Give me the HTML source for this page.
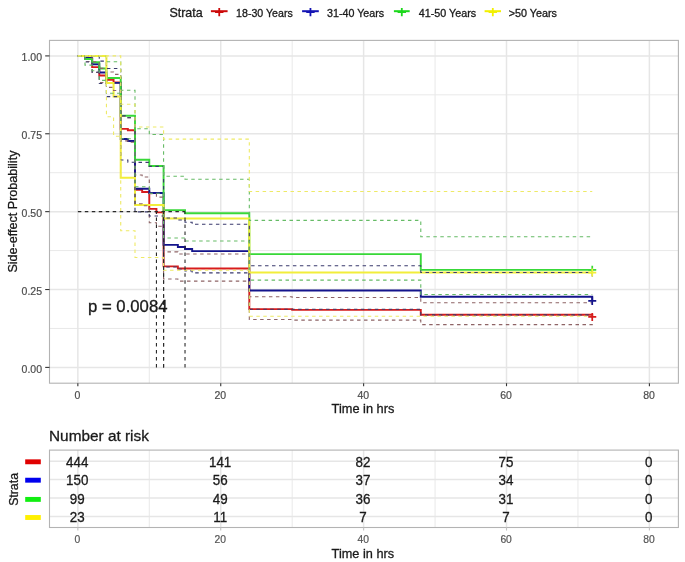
<!DOCTYPE html><html><head><meta charset="utf-8"><style>html,body{margin:0;padding:0;background:#fff}svg{display:block}text{font-family:"Liberation Sans",Arial,sans-serif}</style></head><body>
<svg width="685" height="562" viewBox="0 0 685 562">
<rect width="685" height="562" fill="#fff"/>
<text x="169.43" y="16.60" font-size="12.7" textLength="33.27" lengthAdjust="spacingAndGlyphs" fill="#1a1a1a" stroke="#1a1a1a" stroke-width="0.3">Strata</text>
<line x1="210.9" y1="11.2" x2="227.6" y2="11.2" stroke="#CC0A0A" stroke-width="2"/>
<path d="M219.25,8.1V16.3M215.05,12.1H223.45" stroke="#CC0A0A" stroke-width="1.8" fill="none"/>
<text x="236.09" y="16.90" font-size="10.6" textLength="56.69" lengthAdjust="spacingAndGlyphs" fill="#1a1a1a" stroke="#1a1a1a" stroke-width="0.3">18-30 Years</text>
<line x1="302.1" y1="11.2" x2="318.8" y2="11.2" stroke="#1414B4" stroke-width="2"/>
<path d="M310.45,8.1V16.3M306.25,12.1H314.65" stroke="#1414B4" stroke-width="1.8" fill="none"/>
<text x="327.09" y="16.90" font-size="10.6" textLength="57.09" lengthAdjust="spacingAndGlyphs" fill="#1a1a1a" stroke="#1a1a1a" stroke-width="0.3">31-40 Years</text>
<line x1="393.9" y1="11.2" x2="409.7" y2="11.2" stroke="#1CD81C" stroke-width="2"/>
<path d="M401.80,8.1V16.3M397.60,12.1H406.00" stroke="#1CD81C" stroke-width="1.8" fill="none"/>
<text x="418.75" y="16.90" font-size="10.6" textLength="57.43" lengthAdjust="spacingAndGlyphs" fill="#1a1a1a" stroke="#1a1a1a" stroke-width="0.3">41-50 Years</text>
<line x1="484.6" y1="11.2" x2="501.0" y2="11.2" stroke="#F2F000" stroke-width="2"/>
<path d="M492.80,8.1V16.3M488.60,12.1H497.00" stroke="#F2F000" stroke-width="1.8" fill="none"/>
<text x="508.77" y="16.90" font-size="10.6" textLength="48.21" lengthAdjust="spacingAndGlyphs" fill="#1a1a1a" stroke="#1a1a1a" stroke-width="0.3">&gt;50 Years</text>
<line x1="149.29" y1="40.4" x2="149.29" y2="383.2" stroke="#E9E9E9" stroke-width="1"/>
<line x1="292.18" y1="40.4" x2="292.18" y2="383.2" stroke="#E9E9E9" stroke-width="1"/>
<line x1="435.07" y1="40.4" x2="435.07" y2="383.2" stroke="#E9E9E9" stroke-width="1"/>
<line x1="577.96" y1="40.4" x2="577.96" y2="383.2" stroke="#E9E9E9" stroke-width="1"/>
<line x1="49.5" y1="328.46" x2="678.4" y2="328.46" stroke="#E9E9E9" stroke-width="1"/>
<line x1="49.5" y1="250.59" x2="678.4" y2="250.59" stroke="#E9E9E9" stroke-width="1"/>
<line x1="49.5" y1="172.71" x2="678.4" y2="172.71" stroke="#E9E9E9" stroke-width="1"/>
<line x1="49.5" y1="94.84" x2="678.4" y2="94.84" stroke="#E9E9E9" stroke-width="1"/>
<line x1="77.85" y1="40.4" x2="77.85" y2="383.2" stroke="#E6E6E6" stroke-width="1.5"/>
<line x1="220.74" y1="40.4" x2="220.74" y2="383.2" stroke="#E6E6E6" stroke-width="1.5"/>
<line x1="363.62" y1="40.4" x2="363.62" y2="383.2" stroke="#E6E6E6" stroke-width="1.5"/>
<line x1="506.51" y1="40.4" x2="506.51" y2="383.2" stroke="#E6E6E6" stroke-width="1.5"/>
<line x1="649.40" y1="40.4" x2="649.40" y2="383.2" stroke="#E6E6E6" stroke-width="1.5"/>
<line x1="49.5" y1="367.40" x2="678.4" y2="367.40" stroke="#E6E6E6" stroke-width="1.5"/>
<line x1="49.5" y1="289.52" x2="678.4" y2="289.52" stroke="#E6E6E6" stroke-width="1.5"/>
<line x1="49.5" y1="211.65" x2="678.4" y2="211.65" stroke="#E6E6E6" stroke-width="1.5"/>
<line x1="49.5" y1="133.77" x2="678.4" y2="133.77" stroke="#E6E6E6" stroke-width="1.5"/>
<line x1="49.5" y1="55.90" x2="678.4" y2="55.90" stroke="#E6E6E6" stroke-width="1.5"/>
<path d="M77.85,55.90H84.99V58.71H92.14V67.13H99.28V75.54H106.43V79.75H113.57V82.56H120.72V128.86H127.86V130.27H135.00V189.90H142.15V192.01H149.29V208.84H156.44V212.35H163.58V266.37H177.87V268.48H249.31V309.17H292.18V309.87H420.78V314.78H592.25V316.89H592.25" fill="none" stroke="#D81C1C" stroke-width="1.9"/>
<path d="M77.85,55.90H84.99V57.98H92.14V64.21H99.28V72.51H106.43V82.90H120.72V138.97H127.86V141.04H135.00V188.81H149.29V192.96H163.58V244.88H177.87V246.95H185.02V249.03H192.16V251.11H249.31V290.56H420.78V296.79H592.25V300.95H592.25" fill="none" stroke="#14148C" stroke-width="1.9"/>
<path d="M77.85,55.90H84.99V59.05H92.14V62.19H99.28V68.49H106.43V77.93H120.72V115.68H135.00V159.73H149.29V166.03H163.58V210.08H185.02V213.22H249.31V254.13H420.78V269.86H592.25" fill="none" stroke="#38D838" stroke-width="1.9"/>
<path d="M77.85,55.90H106.43V82.99H113.57V96.53H120.72V177.79H135.00V204.88H163.58V218.42H249.31V272.60H592.25" fill="none" stroke="#F2EE3A" stroke-width="2.0"/>
<path d="M77.85,55.90H84.99V55.96H92.14V61.68H99.28V68.42H106.43V71.94H113.57V74.34H120.72V116.27H127.86V117.59H135.00V174.96H142.15V177.03H149.29V193.68H156.44V197.17H163.58V251.86H177.87V254.03H249.31V296.70H292.18V297.45H420.78V302.72H592.25V304.99H592.25" fill="none" stroke="#8E6466" stroke-width="1.1" stroke-dasharray="3.484 3.484" stroke-dashoffset="0.12"/>
<path d="M77.85,55.90H84.99V61.43H92.14V72.48H99.28V82.50H106.43V87.36H113.57V90.55H120.72V140.83H127.86V142.30H135.00V203.68H142.15V205.80H149.29V222.69H156.44V226.18H163.58V279.07H177.87V281.09H249.31V319.44H292.18V320.08H420.78V324.59H592.25V326.51H592.25" fill="none" stroke="#8E6466" stroke-width="1.1" stroke-dasharray="3.484 3.484" stroke-dashoffset="0.12"/>
<path d="M77.85,55.90H92.14V56.07H99.28V61.10H106.43V68.52H120.72V115.82H127.86V117.70H135.00V162.37H149.29V166.37H163.58V217.94H177.87V220.06H185.02V222.18H192.16V224.31H249.31V265.77H420.78V272.51H592.25V277.04H592.25" fill="none" stroke="#3A3A6E" stroke-width="1.1" stroke-dasharray="3.484 3.484" stroke-dashoffset="0.12"/>
<path d="M77.85,55.90H84.99V62.01H92.14V72.13H99.28V83.50H106.43V96.58H120.72V159.98H127.86V162.20H135.00V211.84H149.29V216.03H163.58V266.96H177.87V268.94H185.02V270.91H192.16V272.88H249.31V309.31H420.78V314.86H592.25V318.53H592.25" fill="none" stroke="#3A3A6E" stroke-width="1.1" stroke-dasharray="3.484 3.484" stroke-dashoffset="0.12"/>
<path d="M77.85,55.90H99.28V56.16H106.43V61.76H120.72V90.32H135.00V128.70H149.29V134.45H163.58V176.20H185.02V179.28H249.31V220.41H420.78V236.82H592.25" fill="none" stroke="#66BB66" stroke-width="1.1" stroke-dasharray="3.484 3.484" stroke-dashoffset="0.12"/>
<path d="M77.85,55.90H84.99V65.12H92.14V70.70H99.28V80.33H106.43V93.23H120.72V138.72H135.00V186.74H149.29V193.32H163.58V237.95H185.02V241.04H249.31V280.11H420.78V294.54H592.25" fill="none" stroke="#66BB66" stroke-width="1.1" stroke-dasharray="3.484 3.484" stroke-dashoffset="0.12"/>
<path d="M77.85,55.90H120.72V104.27H135.00V127.05H163.58V139.10H249.31V191.54H592.25" fill="none" stroke="#EEEA66" stroke-width="1.1" stroke-dasharray="3.484 3.484" stroke-dashoffset="0.12"/>
<path d="M77.85,55.90H106.43V116.69H113.57V136.18H120.72V230.77H135.00V257.51H163.58V270.18H249.31V316.29H592.25" fill="none" stroke="#EEEA66" stroke-width="1.1" stroke-dasharray="3.484 3.484" stroke-dashoffset="0.12"/>
<path d="M588.25,316.89H596.25M592.25,312.89V320.89" stroke="#D81C1C" stroke-width="1.7" fill="none"/>
<path d="M588.25,300.95H596.25M592.25,296.95V304.95" stroke="#14148C" stroke-width="1.7" fill="none"/>
<path d="M588.25,269.86H596.25M592.25,265.86V273.86" stroke="#38D838" stroke-width="1.7" fill="none"/>
<path d="M588.25,272.60H596.25M592.25,268.60V276.60" stroke="#F2EE3A" stroke-width="1.7" fill="none"/>
<path d="M77.85,211.65H185.02" stroke="#2a2a2a" stroke-width="1.1" stroke-dasharray="3.484 3.484" fill="none"/>
<path d="M156.44,367.40V211.65" stroke="#2a2a2a" stroke-width="1.1" stroke-dasharray="3.484 3.484" fill="none"/>
<path d="M163.58,367.40V211.65" stroke="#2a2a2a" stroke-width="1.1" stroke-dasharray="3.484 3.484" fill="none"/>
<path d="M163.58,367.40V211.65" stroke="#2a2a2a" stroke-width="1.1" stroke-dasharray="3.484 3.484" fill="none"/>
<path d="M185.02,367.40V211.65" stroke="#2a2a2a" stroke-width="1.1" stroke-dasharray="3.484 3.484" fill="none"/>
<text x="88.01" y="311.70" font-size="15.7" textLength="79.48" lengthAdjust="spacingAndGlyphs" fill="#1a1a1a" stroke="#1a1a1a" stroke-width="0.3">p = 0.0084</text>
<rect x="49.5" y="40.4" width="628.90" height="342.80" fill="none" stroke="#B3B3B3" stroke-width="1.1"/>
<line x1="45.2" y1="367.40" x2="49.5" y2="367.40" stroke="#333" stroke-width="1.1"/>
<text x="42.0" y="372.80" font-size="10.5" fill="#4D4D4D" stroke="#4D4D4D" stroke-width="0.2" text-anchor="end">0.00</text>
<line x1="45.2" y1="289.52" x2="49.5" y2="289.52" stroke="#333" stroke-width="1.1"/>
<text x="42.0" y="294.92" font-size="10.5" fill="#4D4D4D" stroke="#4D4D4D" stroke-width="0.2" text-anchor="end">0.25</text>
<line x1="45.2" y1="211.65" x2="49.5" y2="211.65" stroke="#333" stroke-width="1.1"/>
<text x="42.0" y="217.05" font-size="10.5" fill="#4D4D4D" stroke="#4D4D4D" stroke-width="0.2" text-anchor="end">0.50</text>
<line x1="45.2" y1="133.77" x2="49.5" y2="133.77" stroke="#333" stroke-width="1.1"/>
<text x="42.0" y="139.17" font-size="10.5" fill="#4D4D4D" stroke="#4D4D4D" stroke-width="0.2" text-anchor="end">0.75</text>
<line x1="45.2" y1="55.90" x2="49.5" y2="55.90" stroke="#333" stroke-width="1.1"/>
<text x="42.0" y="61.30" font-size="10.5" fill="#4D4D4D" stroke="#4D4D4D" stroke-width="0.2" text-anchor="end">1.00</text>
<line x1="77.85" y1="383.2" x2="77.85" y2="386.2" stroke="#333" stroke-width="1.1"/>
<text x="77.45" y="398.7" font-size="10.5" fill="#4D4D4D" stroke="#4D4D4D" stroke-width="0.2" text-anchor="middle">0</text>
<line x1="220.74" y1="383.2" x2="220.74" y2="386.2" stroke="#333" stroke-width="1.1"/>
<text x="220.34" y="398.7" font-size="10.5" fill="#4D4D4D" stroke="#4D4D4D" stroke-width="0.2" text-anchor="middle">20</text>
<line x1="363.62" y1="383.2" x2="363.62" y2="386.2" stroke="#333" stroke-width="1.1"/>
<text x="363.23" y="398.7" font-size="10.5" fill="#4D4D4D" stroke="#4D4D4D" stroke-width="0.2" text-anchor="middle">40</text>
<line x1="506.51" y1="383.2" x2="506.51" y2="386.2" stroke="#333" stroke-width="1.1"/>
<text x="506.11" y="398.7" font-size="10.5" fill="#4D4D4D" stroke="#4D4D4D" stroke-width="0.2" text-anchor="middle">60</text>
<line x1="649.40" y1="383.2" x2="649.40" y2="386.2" stroke="#333" stroke-width="1.1"/>
<text x="649.00" y="398.7" font-size="10.5" fill="#4D4D4D" stroke="#4D4D4D" stroke-width="0.2" text-anchor="middle">80</text>
<text x="331.62" y="412.50" font-size="12.6" textLength="62.74" lengthAdjust="spacingAndGlyphs" fill="#1a1a1a" stroke="#1a1a1a" stroke-width="0.3">Time in hrs</text>
<text transform="translate(17.00,272.58) rotate(-90)" font-size="12.5" textLength="122.00" lengthAdjust="spacingAndGlyphs" fill="#1a1a1a" stroke="#1a1a1a" stroke-width="0.3">Side-effect Probability</text>
<line x1="149.29" y1="450.1" x2="149.29" y2="527.5" stroke="#E9E9E9" stroke-width="1"/>
<line x1="292.18" y1="450.1" x2="292.18" y2="527.5" stroke="#E9E9E9" stroke-width="1"/>
<line x1="435.07" y1="450.1" x2="435.07" y2="527.5" stroke="#E9E9E9" stroke-width="1"/>
<line x1="577.96" y1="450.1" x2="577.96" y2="527.5" stroke="#E9E9E9" stroke-width="1"/>
<line x1="77.85" y1="450.1" x2="77.85" y2="527.5" stroke="#E6E6E6" stroke-width="1.5"/>
<line x1="220.74" y1="450.1" x2="220.74" y2="527.5" stroke="#E6E6E6" stroke-width="1.5"/>
<line x1="363.62" y1="450.1" x2="363.62" y2="527.5" stroke="#E6E6E6" stroke-width="1.5"/>
<line x1="506.51" y1="450.1" x2="506.51" y2="527.5" stroke="#E6E6E6" stroke-width="1.5"/>
<line x1="649.40" y1="450.1" x2="649.40" y2="527.5" stroke="#E6E6E6" stroke-width="1.5"/>
<line x1="49.5" y1="461.16" x2="678.4" y2="461.16" stroke="#E6E6E6" stroke-width="1.5"/>
<line x1="49.5" y1="479.59" x2="678.4" y2="479.59" stroke="#E6E6E6" stroke-width="1.5"/>
<line x1="49.5" y1="498.01" x2="678.4" y2="498.01" stroke="#E6E6E6" stroke-width="1.5"/>
<line x1="49.5" y1="516.44" x2="678.4" y2="516.44" stroke="#E6E6E6" stroke-width="1.5"/>
<rect x="49.5" y="450.1" width="628.90" height="77.40" fill="none" stroke="#B3B3B3" stroke-width="1.1"/>
<text x="49.04" y="441.10" font-size="15.4" textLength="99.84" lengthAdjust="spacingAndGlyphs" fill="#1a1a1a" stroke="#1a1a1a" stroke-width="0.3">Number at risk</text>
<rect x="25.2" y="459.35" width="15.6" height="4.9" fill="#E00000"/>
<text x="77.25" y="467.06" font-size="13.9" textLength="22.36" lengthAdjust="spacingAndGlyphs" fill="#1a1a1a" stroke="#1a1a1a" stroke-width="0.3" text-anchor="middle">444</text>
<text x="220.14" y="467.06" font-size="13.9" textLength="22.36" lengthAdjust="spacingAndGlyphs" fill="#1a1a1a" stroke="#1a1a1a" stroke-width="0.3" text-anchor="middle">141</text>
<text x="363.02" y="467.06" font-size="13.9" textLength="14.90" lengthAdjust="spacingAndGlyphs" fill="#1a1a1a" stroke="#1a1a1a" stroke-width="0.3" text-anchor="middle">82</text>
<text x="505.91" y="467.06" font-size="13.9" textLength="14.90" lengthAdjust="spacingAndGlyphs" fill="#1a1a1a" stroke="#1a1a1a" stroke-width="0.3" text-anchor="middle">75</text>
<text x="648.80" y="467.06" font-size="13.9" textLength="7.45" lengthAdjust="spacingAndGlyphs" fill="#1a1a1a" stroke="#1a1a1a" stroke-width="0.3" text-anchor="middle">0</text>
<rect x="25.2" y="477.75" width="15.6" height="4.9" fill="#0000EE"/>
<text x="77.25" y="485.49" font-size="13.9" textLength="22.36" lengthAdjust="spacingAndGlyphs" fill="#1a1a1a" stroke="#1a1a1a" stroke-width="0.3" text-anchor="middle">150</text>
<text x="220.14" y="485.49" font-size="13.9" textLength="14.90" lengthAdjust="spacingAndGlyphs" fill="#1a1a1a" stroke="#1a1a1a" stroke-width="0.3" text-anchor="middle">56</text>
<text x="363.02" y="485.49" font-size="13.9" textLength="14.90" lengthAdjust="spacingAndGlyphs" fill="#1a1a1a" stroke="#1a1a1a" stroke-width="0.3" text-anchor="middle">37</text>
<text x="505.91" y="485.49" font-size="13.9" textLength="14.90" lengthAdjust="spacingAndGlyphs" fill="#1a1a1a" stroke="#1a1a1a" stroke-width="0.3" text-anchor="middle">34</text>
<text x="648.80" y="485.49" font-size="13.9" textLength="7.45" lengthAdjust="spacingAndGlyphs" fill="#1a1a1a" stroke="#1a1a1a" stroke-width="0.3" text-anchor="middle">0</text>
<rect x="25.2" y="496.95" width="15.6" height="4.9" fill="#11EE11"/>
<text x="77.25" y="503.91" font-size="13.9" textLength="14.90" lengthAdjust="spacingAndGlyphs" fill="#1a1a1a" stroke="#1a1a1a" stroke-width="0.3" text-anchor="middle">99</text>
<text x="220.14" y="503.91" font-size="13.9" textLength="14.90" lengthAdjust="spacingAndGlyphs" fill="#1a1a1a" stroke="#1a1a1a" stroke-width="0.3" text-anchor="middle">49</text>
<text x="363.02" y="503.91" font-size="13.9" textLength="14.90" lengthAdjust="spacingAndGlyphs" fill="#1a1a1a" stroke="#1a1a1a" stroke-width="0.3" text-anchor="middle">36</text>
<text x="505.91" y="503.91" font-size="13.9" textLength="14.90" lengthAdjust="spacingAndGlyphs" fill="#1a1a1a" stroke="#1a1a1a" stroke-width="0.3" text-anchor="middle">31</text>
<text x="648.80" y="503.91" font-size="13.9" textLength="7.45" lengthAdjust="spacingAndGlyphs" fill="#1a1a1a" stroke="#1a1a1a" stroke-width="0.3" text-anchor="middle">0</text>
<rect x="25.2" y="515.05" width="15.6" height="4.9" fill="#FFF000"/>
<text x="77.25" y="522.34" font-size="13.9" textLength="14.90" lengthAdjust="spacingAndGlyphs" fill="#1a1a1a" stroke="#1a1a1a" stroke-width="0.3" text-anchor="middle">23</text>
<text x="220.14" y="522.34" font-size="13.9" textLength="13.91" lengthAdjust="spacingAndGlyphs" fill="#1a1a1a" stroke="#1a1a1a" stroke-width="0.3" text-anchor="middle">11</text>
<text x="363.02" y="522.34" font-size="13.9" textLength="7.45" lengthAdjust="spacingAndGlyphs" fill="#1a1a1a" stroke="#1a1a1a" stroke-width="0.3" text-anchor="middle">7</text>
<text x="505.91" y="522.34" font-size="13.9" textLength="7.45" lengthAdjust="spacingAndGlyphs" fill="#1a1a1a" stroke="#1a1a1a" stroke-width="0.3" text-anchor="middle">7</text>
<text x="648.80" y="522.34" font-size="13.9" textLength="7.45" lengthAdjust="spacingAndGlyphs" fill="#1a1a1a" stroke="#1a1a1a" stroke-width="0.3" text-anchor="middle">0</text>
<line x1="77.85" y1="527.5" x2="77.85" y2="530.6" stroke="#C4C4C4" stroke-width="1.1"/>
<text x="77.45" y="543.1" font-size="10.3" fill="#555" stroke="#555" stroke-width="0.2" text-anchor="middle">0</text>
<line x1="220.74" y1="527.5" x2="220.74" y2="530.6" stroke="#C4C4C4" stroke-width="1.1"/>
<text x="220.34" y="543.1" font-size="10.3" fill="#555" stroke="#555" stroke-width="0.2" text-anchor="middle">20</text>
<line x1="363.62" y1="527.5" x2="363.62" y2="530.6" stroke="#C4C4C4" stroke-width="1.1"/>
<text x="363.23" y="543.1" font-size="10.3" fill="#555" stroke="#555" stroke-width="0.2" text-anchor="middle">40</text>
<line x1="506.51" y1="527.5" x2="506.51" y2="530.6" stroke="#C4C4C4" stroke-width="1.1"/>
<text x="506.11" y="543.1" font-size="10.3" fill="#555" stroke="#555" stroke-width="0.2" text-anchor="middle">60</text>
<line x1="649.40" y1="527.5" x2="649.40" y2="530.6" stroke="#C4C4C4" stroke-width="1.1"/>
<text x="649.00" y="543.1" font-size="10.3" fill="#555" stroke="#555" stroke-width="0.2" text-anchor="middle">80</text>
<text x="331.62" y="557.80" font-size="12.6" textLength="62.44" lengthAdjust="spacingAndGlyphs" fill="#1a1a1a" stroke="#1a1a1a" stroke-width="0.3">Time in hrs</text>
<text transform="translate(17.90,505.87) rotate(-90)" font-size="13.2" textLength="32.87" lengthAdjust="spacingAndGlyphs" fill="#1a1a1a" stroke="#1a1a1a" stroke-width="0.3">Strata</text>
</svg></body></html>
